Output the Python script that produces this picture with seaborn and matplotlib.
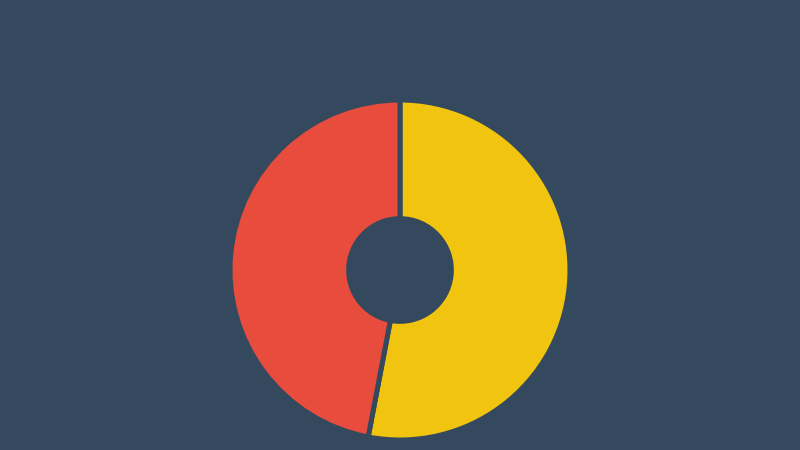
import matplotlib
matplotlib.use('Agg')
import matplotlib.pyplot as plt
import seaborn as sns

# donut data
labels = ['Yellow', 'Red']
values = [53, 47]
colours = ['#f1c40f', '#e74c3c']
bg = '#34495e'

sns.set_theme(style='white')

fig = plt.figure(figsize=(8, 4.5), dpi=100, facecolor=bg)
# square axes centred on the figure, slightly below middle
ax = fig.add_axes([0.2875, 0.02222, 0.425, 0.75556])
ax.set_facecolor(bg)

ax.pie(values, colors=colours, startangle=90, counterclock=False,
       radius=1.0,
       wedgeprops=dict(width=0.698, edgecolor=bg, linewidth=3.6))
ax.set_xlim(-1, 1)
ax.set_ylim(-1, 1)
ax.set_aspect('equal')
ax.axis('off')

fig.savefig('out.png', dpi=100, facecolor=bg)
